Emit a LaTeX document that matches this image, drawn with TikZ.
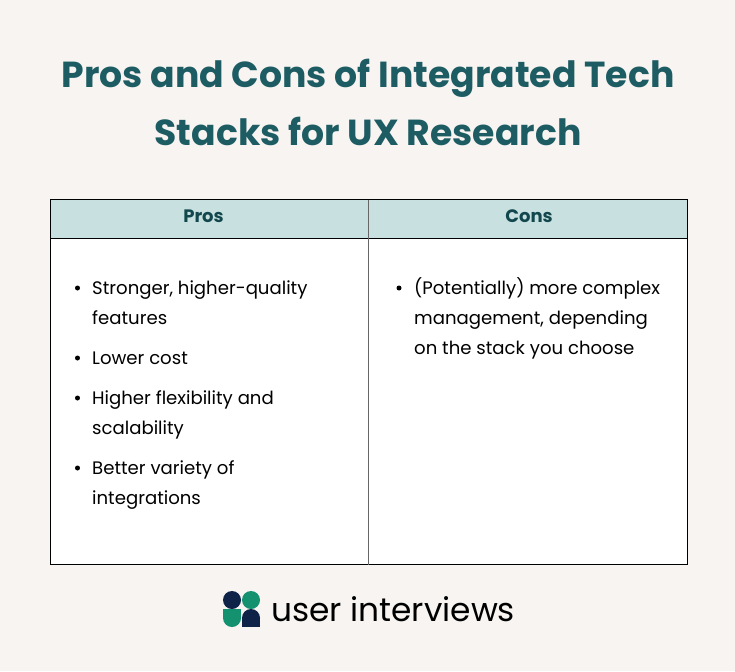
\documentclass[tikz,border=0pt]{standalone}
\usepackage{fontspec}
\setmainfont{Poppins}
\definecolor{bgc}{HTML}{F7F4F1}
\definecolor{titlec}{HTML}{1D5C63}
\definecolor{headc}{HTML}{C8E0E0}
\definecolor{headt}{HTML}{12474D}
\definecolor{navy}{HTML}{0E2347}
\definecolor{grn}{HTML}{14916F}
\tikzset{x=1pt,y=-1pt,
 titlet/.style={font=\fontsize{36.2}{38}\selectfont\bfseries,text=titlec,anchor=base,inner sep=0pt},
 head/.style={draw=black,line width=.8pt,fill=headc},
 cell/.style={draw=black,line width=.8pt,fill=white},
 divider/.style={draw=black!60,line width=.9pt},
 headtxt/.style={font=\fontsize{18}{20}\selectfont\bfseries,text=headt,anchor=base,inner sep=0pt},
 body/.style={font=\fontsize{18.1}{20}\selectfont,text=black,anchor=base west,inner sep=0pt},
 bull/.style={circle,fill=black,inner sep=0pt,minimum size=5pt}}
\begin{document}
\begin{tikzpicture}
\useasboundingbox (0,0) rectangle (735,671);
\fill[bgc] (0,0) rectangle (735,671);
\node[titlet] (t1) at (368,88) {Pros and Cons of Integrated Tech};
\node[titlet] (t2) at (368,146) {Stacks for UX Research};
\draw[cell] (50.5,238) rectangle (368.5,564.5);
\draw[cell] (368.5,238) rectangle (687.5,564.5);
\draw[head] (50.5,199.5) rectangle (368.5,238);
\draw[head] (368.5,199.5) rectangle (687.5,238);
\coordinate (dt) at (368.5,199.5);
\coordinate (db) at (368.5,564.5);
\draw[divider] (dt) -- (db);
\node[headtxt] (h1) at (203.5,222.5) {Pros};
\node[headtxt] (h2) at (529,222.5) {Cons};
\foreach \n/\y in {a/288,b/358,c/398,d/468}{\node[bull] (bl\n) at (77.5,\y) {};}
\node[bull] (br) at (399,288) {};
\node[body] (p1) at (92,294) {Stronger, higher-quality};
\node[body] (p2) at (92,324) {features};
\node[body] (p3) at (92,364) {Lower cost};
\node[body] (p4) at (92,404) {Higher flexibility and};
\node[body] (p5) at (92,434) {scalability};
\node[body] (p6) at (92,474) {Better variety of};
\node[body] (p7) at (92,504) {integrations};
\node[body] (c1) at (414,294) {(Potentially) more complex};
\node[body] (c2) at (414,324) {management, depending};
\node[body] (c3) at (414,354) {on the stack you choose};
% logo
\fill[navy] (232,600) circle (9);
\fill[grn] (251,600) circle (9);
\fill[grn] (232,618) circle (9);
\fill[grn] (223,609) rectangle (241,618);
\fill[navy] (251,618) circle (9);
\fill[navy] (242,618) rectangle (260,627);
\node[font=\fontsize{32.8}{34}\selectfont,text=black,anchor=base west,inner sep=0pt] (logo) at (271,621) {user interviews};
\end{tikzpicture}
\end{document}
